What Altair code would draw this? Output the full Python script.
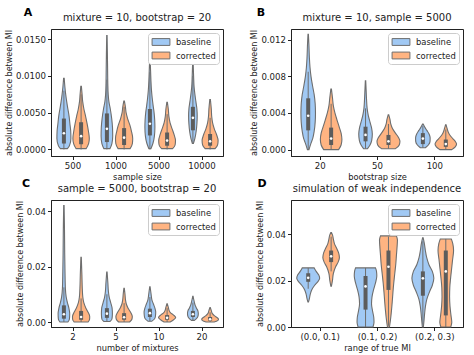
import altair as alt
import pandas as pd

HUES = ["baseline", "corrected"]
COLORS = ["#a1c9f4", "#ffb482"]
EDGE = "#6e6e6e"
BOXC = "#5c5c5c"
INK = "#222222"
YTITLE = "absolute difference between MI"

LETTERS = ["A", "B", "C", "D"]
TITLES = ["mixture = 10, bootstrap = 20", "mixture = 10, sample = 5000",
          "sample = 5000, bootstrap = 20", "simulation of weak independence"]
XTITLES = ["sample size", "bootstrap size", "number of mixtures", "range of true MI"]

# ---------------- Panel A ----------------
A_CATS = ["500", "1000", "5000", "10000"]
A_YTICKS = [0.0, 0.0025, 0.005, 0.0075, 0.01, 0.0125, 0.015]
A_YDOM = [-0.0009, 0.0164]
A_BASE_V = [
    [0.0001, 0.0005, 0.0015, 0.0025, 0.0035, 0.0045, 0.0055, 0.0065, 0.0075, 0.0085, 0.0097],
    [0.0001, 0.0008, 0.0018, 0.003, 0.0042, 0.0055, 0.0065, 0.0075, 0.009, 0.011, 0.013, 0.0155],
    [0.0001, 0.0008, 0.0018, 0.003, 0.004, 0.005, 0.006, 0.007, 0.008, 0.0095, 0.011, 0.0125],
    [0.0008, 0.0015, 0.0025, 0.0035, 0.0045, 0.0055, 0.0065, 0.0075, 0.0085, 0.0100, 0.0122],
]
A_BASE_D = [
    [3.5, 5.5, 7, 6.8, 6, 5.2, 4, 2.8, 1.8, 1, 0.3],
    [3, 5, 5.8, 5.6, 4.8, 3.4, 2, 1.3, 0.9, 0.7, 0.5, 0.2],
    [1, 3, 4.5, 5, 4.8, 4.2, 3.2, 2.3, 1.6, 1, 0.6, 0.2],
    [0.5, 2, 3.3, 4, 4.3, 4, 3, 2, 1.2, 0.7, 0.2],
]
A_CORR_V = [
    [0.0001, 0.0008, 0.0015, 0.0025, 0.0035, 0.0045, 0.0055, 0.0065, 0.0075, 0.0086],
    [0.0001, 0.0008, 0.0015, 0.0025, 0.0033, 0.0042, 0.005, 0.0058, 0.0066],
    [0.0001, 0.0006, 0.0012, 0.002, 0.0028, 0.0036, 0.0045, 0.0055, 0.0064],
    [0.0001, 0.0006, 0.0012, 0.002, 0.0028, 0.0036, 0.0045, 0.0055, 0.0068],
]
A_CORR_D = [
    [5, 7.5, 8.2, 7.3, 6, 4.5, 2.8, 1.6, 1, 0.3],
    [6, 8.3, 8.6, 7.3, 5.8, 3.5, 2, 1.3, 0.3],
    [5.5, 8, 8.4, 7, 5, 3, 1.8, 1.2, 0.3],
    [5, 7.5, 8, 6.5, 4.2, 2.5, 1.6, 1.2, 0.3],
]
# box stats: whisker low, q1, median, q3, whisker high
A_BASE_BOX = [
    [0.0000, 0.0008, 0.0022, 0.0042, 0.0080],
    [0.0000, 0.0010, 0.0028, 0.0049, 0.0095],
    [0.0000, 0.0019, 0.0035, 0.0055, 0.0105],
    [0.0008, 0.0026, 0.0043, 0.0058, 0.0100],
]
A_CORR_BOX = [
    [0.0000, 0.0007, 0.0018, 0.0037, 0.0075],
    [0.0000, 0.0006, 0.0016, 0.0029, 0.0058],
    [0.0000, 0.0005, 0.0012, 0.0023, 0.0048],
    [0.0000, 0.0005, 0.0011, 0.0021, 0.0043],
]

# ---------------- Panel B ----------------
B_CATS = ["20", "50", "100"]
B_YTICKS = [0.0, 0.002, 0.004, 0.006, 0.008, 0.010, 0.012]
B_YDOM = [-0.0007, 0.01317]
B_BASE_V = [
    [0.0000, 0.0006, 0.0012, 0.002, 0.003, 0.004, 0.005, 0.006, 0.007, 0.008, 0.009, 0.010, 0.0115, 0.0126],
    [0.0001, 0.0005, 0.001, 0.0017, 0.0024, 0.003, 0.0037, 0.0045, 0.0055, 0.0065, 0.0075],
    [0.0002, 0.0005, 0.0009, 0.0013, 0.0017, 0.0021, 0.0024, 0.0028],
]
B_BASE_D = [
    [0.8, 2.5, 4.5, 6, 7, 7.3, 7, 6, 4.3, 2.8, 1.8, 1.2, 0.7, 0.2],
    [2, 4.5, 6.2, 6.8, 6, 4.5, 2.8, 1.6, 1, 0.6, 0.2],
    [2.5, 5.5, 7.2, 7.3, 6.2, 4, 2.2, 0.3],
]
B_CORR_V = [
    [0.0000, 0.0005, 0.0011, 0.0018, 0.0025, 0.0032, 0.004, 0.0048, 0.0056, 0.0066],
    [0.0001, 0.0005, 0.0009, 0.0013, 0.0018, 0.0023, 0.0028, 0.0033, 0.0038],
    [0.0000, 0.0003, 0.0006, 0.0009, 0.0012, 0.0016, 0.0019, 0.0023, 0.0027],
]
B_CORR_D = [
    [7.5, 10, 10.8, 10, 8, 6, 3.8, 2.2, 1.4, 0.3],
    [7, 10.8, 11.5, 10.2, 7, 4, 2.3, 1.5, 0.3],
    [6, 9.5, 10.8, 9.5, 7, 4, 2.5, 1.3, 0.3],
]
B_BASE_BOX = [
    [0.0000, 0.0021, 0.0037, 0.0056, 0.0085],
    [0.0001, 0.0009, 0.0016, 0.0025, 0.0045],
    [0.0002, 0.0006, 0.0012, 0.0018, 0.0026],
]
B_CORR_BOX = [
    [0.0000, 0.0005, 0.0012, 0.0024, 0.0050],
    [0.0001, 0.0005, 0.0009, 0.0016, 0.0028],
    [0.0000, 0.0003, 0.0006, 0.0011, 0.0022],
]

# ---------------- Panel C ----------------
C_CATS = ["2", "5", "10", "20"]
C_YTICKS = [0.0, 0.01, 0.02, 0.03, 0.04]
C_YDOM = [-0.0018, 0.044]
C_BASE_V = [
    [0.0000, 0.001, 0.003, 0.005, 0.007, 0.009, 0.012, 0.018, 0.025, 0.033, 0.042],
    [0.0002, 0.001, 0.003, 0.005, 0.007, 0.009, 0.011, 0.014, 0.018],
    [0.0003, 0.001, 0.002, 0.0035, 0.005, 0.0065, 0.008, 0.010, 0.0127],
    [0.0006, 0.0012, 0.002, 0.003, 0.004, 0.005, 0.006, 0.0075, 0.0093],
]
C_BASE_D = [
    [4, 5.5, 5.8, 5, 3.5, 2.3, 1.5, 1.1, 0.8, 0.6, 0.2],
    [3, 5, 5.5, 5.2, 3.8, 2.3, 1.5, 1, 0.2],
    [2, 4.3, 5.5, 5.8, 5, 3.5, 2, 1.2, 0.2],
    [1.5, 3.5, 5, 5.4, 5, 3.6, 2.3, 1.2, 0.2],
]
C_CORR_V = [
    [0.0000, 0.001, 0.002, 0.0035, 0.005, 0.007, 0.009, 0.012, 0.017, 0.0233],
    [0.0000, 0.001, 0.002, 0.0035, 0.005, 0.0065, 0.008, 0.010, 0.0122],
    [0.0000, 0.0008, 0.0016, 0.0025, 0.0033, 0.0042, 0.0052, 0.0066],
    [0.0000, 0.0005, 0.001, 0.0016, 0.0022, 0.003, 0.004, 0.0052],
]
C_CORR_D = [
    [7, 8.5, 8.6, 7, 4.8, 2.7, 1.7, 1.2, 0.8, 0.2],
    [5.5, 7.8, 8.2, 6.5, 4, 2.2, 1.4, 0.9, 0.2],
    [3, 6.5, 8.6, 6.5, 3.5, 2, 1.3, 0.2],
    [4, 7.5, 8.4, 7, 4.5, 2.3, 1.3, 0.2],
]
C_BASE_BOX = [
    [0.0000, 0.0012, 0.0028, 0.0060, 0.0125],
    [0.0002, 0.0015, 0.0030, 0.0050, 0.0100],
    [0.0003, 0.0018, 0.0032, 0.0048, 0.0090],
    [0.0006, 0.0018, 0.0028, 0.0040, 0.0070],
]
C_CORR_BOX = [
    [0.0000, 0.0008, 0.0018, 0.0040, 0.0085],
    [0.0000, 0.0008, 0.0017, 0.0032, 0.0068],
    [0.0000, 0.0008, 0.0015, 0.0025, 0.0050],
    [0.0000, 0.0005, 0.0010, 0.0018, 0.0035],
]

# ---------------- Panel D ----------------
D_CATS = ["(0.0, 0.1)", "(0.1, 0.2)", "(0.2, 0.3)"]
D_YTICKS = [0.0, 0.01, 0.02, 0.03, 0.04, 0.05]
D_YDOM = [0.0, 0.0548]
D_BASE_V = [
    [0.0108, 0.0125, 0.014, 0.016, 0.018, 0.0195, 0.021, 0.0225, 0.024, 0.0255],
    [0.000, 0.002, 0.004, 0.007, 0.010, 0.013, 0.016, 0.019, 0.022, 0.024, 0.0255],
    [0.000, 0.003, 0.006, 0.009, 0.012, 0.015, 0.018, 0.021, 0.024, 0.027, 0.030, 0.033, 0.036, 0.0385],
]
D_BASE_D = [
    [0.3, 1.3, 2, 3.5, 6.5, 9.5, 11.5, 10.5, 8, 6],
    [7.5, 8.5, 8.3, 7, 6, 6.5, 8, 10, 11.3, 11, 10],
    [0.5, 1.2, 1.8, 2.6, 4, 6.5, 9.5, 11, 9.5, 6, 3.8, 2.5, 1.5, 0.3],
]
D_CORR_V = [
    [0.0176, 0.020, 0.023, 0.026, 0.028, 0.030, 0.032, 0.034, 0.036, 0.038, 0.0395, 0.0408],
    [0.000, 0.003, 0.007, 0.011, 0.015, 0.019, 0.023, 0.027, 0.031, 0.035, 0.0375, 0.0393],
    [0.000, 0.002, 0.005, 0.009, 0.013, 0.017, 0.021, 0.025, 0.029, 0.033, 0.036, 0.038],
]
D_CORR_D = [
    [0.3, 1.3, 2.2, 4.5, 7, 8.3, 7.5, 5.5, 3.3, 2.2, 1.5, 0.3],
    [1, 2, 3, 3.8, 4.5, 5.3, 6.3, 7.3, 8, 8.7, 9, 8],
    [5, 6, 5.2, 4.2, 3.8, 4, 4.8, 5.8, 6.8, 7.8, 7, 5.5],
]
D_BASE_BOX = [
    [0.0165, 0.0195, 0.0212, 0.0232, 0.0255],
    [0.0000, 0.0075, 0.0175, 0.0220, 0.0255],
    [0.0010, 0.0135, 0.0210, 0.0240, 0.0370],
]
D_CORR_BOX = [
    [0.0240, 0.0280, 0.0305, 0.0330, 0.0390],
    [0.0005, 0.0160, 0.0260, 0.0330, 0.0390],
    [0.0000, 0.0050, 0.0240, 0.0330, 0.0380],
]

PW, PH = 172, 127


def violin_frame(base_v, base_d, corr_v, corr_d):
    dmax = max(max(d) for d in base_d + corr_d)
    rows = []
    for hi, (vs, ds) in enumerate([(base_v, base_d), (corr_v, corr_d)]):
        for ci in range(len(vs)):
            center = ci + (-0.2 if hi == 0 else 0.2)
            for v, d in zip(vs[ci], ds[ci]):
                hw = 0.2 * d / dmax
                rows.append({"vid": f"v{hi}{ci}", "hue": HUES[hi], "value": v,
                             "left": center - hw, "right": center + hw})
    return pd.DataFrame(rows)


def box_frame(base_box, corr_box):
    rows = []
    for hi, boxes in enumerate([base_box, corr_box]):
        for ci, (lo, q1, med, q3, hiw) in enumerate(boxes):
            center = ci + (-0.2 if hi == 0 else 0.2)
            rows.append({"hue": HUES[hi], "center": center, "lo": lo, "q1": q1,
                         "med": med, "q3": q3, "hi": hiw})
    return pd.DataFrame(rows)


def panel(idx, cats, ydom, yticks, yfmt, vdf, bdf, letter_dx):
    n = len(cats)
    labexpr = "[" + ",".join(f"'{c}'" for c in cats) + "][datum.value]"
    xs = alt.Scale(domain=[-0.5, n - 0.5], nice=False, zero=False)
    ys = alt.Scale(domain=ydom, nice=False, zero=False)
    xax = alt.Axis(values=list(range(n)), labelExpr=labexpr, title=XTITLES[idx])
    yax = alt.Axis(values=yticks, format=yfmt, title=YTITLE, titleFontSize=8)

    area = alt.Chart(vdf).mark_area(
        orient="horizontal", interpolate="monotone", stroke=EDGE,
        strokeWidth=1.1, opacity=1, fillOpacity=1
    ).encode(
        x=alt.X("left:Q", scale=xs, axis=xax, stack=None),
        x2="right:Q",
        y=alt.Y("value:Q", scale=ys, axis=yax),
        color=alt.Color("hue:N", scale=alt.Scale(domain=HUES, range=COLORS),
                        legend=alt.Legend(title=None, orient="top-right")),
        detail="vid:N",
    )
    whisk = alt.Chart(bdf).mark_rule(color=EDGE, strokeWidth=1).encode(
        x="center:Q", y="lo:Q", y2="hi:Q")
    box = alt.Chart(bdf).mark_rule(color=BOXC, strokeWidth=4).encode(
        x="center:Q", y="q1:Q", y2="q3:Q")
    med = alt.Chart(bdf).mark_circle(color="white", size=7, opacity=1).encode(
        x="center:Q", y="med:Q")
    lab = alt.Chart(pd.DataFrame({"t": [LETTERS[idx]]})).mark_text(
        fontWeight="bold", fontSize=11, align="center", baseline="middle", color="black"
    ).encode(text="t:N", x=alt.value(letter_dx), y=alt.value(-16))
    ttl = alt.Chart(pd.DataFrame({"t": [TITLES[idx]]})).mark_text(
        fontSize=10, align="center", baseline="middle", color=INK
    ).encode(text="t:N", x=alt.value(PW / 2), y=alt.value(-11))

    return alt.layer(area, whisk, box, med, lab, ttl).properties(width=PW, height=PH)


pA = panel(0, A_CATS, A_YDOM, A_YTICKS, ".4f",
           violin_frame(A_BASE_V, A_BASE_D, A_CORR_V, A_CORR_D),
           box_frame(A_BASE_BOX, A_CORR_BOX), -23)
pB = panel(1, B_CATS, B_YDOM, B_YTICKS, ".3f",
           violin_frame(B_BASE_V, B_BASE_D, B_CORR_V, B_CORR_D),
           box_frame(B_BASE_BOX, B_CORR_BOX), -30)
pC = panel(2, C_CATS, C_YDOM, C_YTICKS, ".2f",
           violin_frame(C_BASE_V, C_BASE_D, C_CORR_V, C_CORR_D),
           box_frame(C_BASE_BOX, C_CORR_BOX), -25)
pD = panel(3, D_CATS, D_YDOM, D_YTICKS, ".2f",
           violin_frame(D_BASE_V, D_BASE_D, D_CORR_V, D_CORR_D),
           box_frame(D_BASE_BOX, D_CORR_BOX), -29)

chart = alt.concat(pA, pB, pC, pD, columns=2, spacing={"row": 44, "column": 68},
                   bounds="flush").resolve_scale(color="independent").properties(
    padding={"left": 4, "top": 6, "right": 5, "bottom": 5}
).configure(font="DejaVu Sans").configure_axis(
    grid=False, labelFontSize=8.6, titleFontSize=8.3, titleFontWeight="normal",
    labelColor=INK, titleColor=INK, tickColor=INK, domainColor=INK,
    tickSize=3.5, labelPadding=2, titlePadding=2, labelFont="DejaVu Sans", titleFont="DejaVu Sans"
).configure_view(stroke=INK, strokeWidth=1).configure_legend(
    labelFontSize=8.4, labelFont="DejaVu Sans", labelColor=INK, offset=4, padding=3,
    rowPadding=1.5, labelOffset=9, symbolOffset=4, strokeColor="#cccccc",
    fillColor="#ffffff", cornerRadius=3,
    symbolType="M-1.7,-0.65H1.7V0.65H-1.7Z", symbolSize=110, symbolStrokeColor=EDGE,
    symbolStrokeWidth=1, symbolOpacity=1
)

chart.save("out.html", embed_options={"renderer": "svg", "actions": False})
